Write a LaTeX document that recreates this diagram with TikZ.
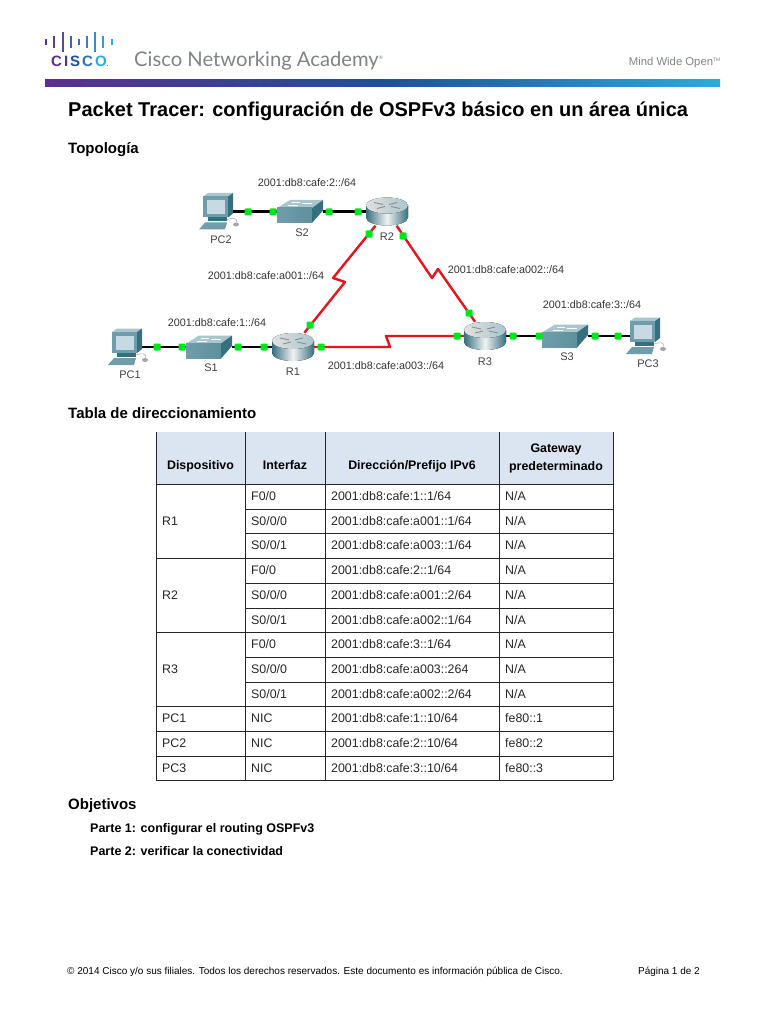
\documentclass[tikz,border=0pt]{standalone}
\usepackage{fontspec}
\setmainfont{Liberation Sans}
\newfontfamily\academyfont{Lato}
\definecolor{ciscogrey}{HTML}{808386}
\definecolor{ciscopurple}{HTML}{5B2F91}
\definecolor{ciscoblue}{HTML}{1F4E9E}
\definecolor{ciscosky}{HTML}{29ABE2}
\definecolor{headfill}{HTML}{DBE5F1}
\definecolor{linkgreen}{HTML}{00E61E}
\definecolor{linkred}{HTML}{E8141C}
\definecolor{tealdark}{HTML}{35707F}
\definecolor{tealmid}{HTML}{6F9DAB}
\definecolor{teallight}{HTML}{A9C6CE}
\definecolor{screenblue}{HTML}{C6DAE3}
\tikzset{
	device/.style={inner sep=0pt, minimum height=#1, minimum width=24pt},
	routernode/.style={inner sep=0pt, minimum height=28pt, minimum width=42pt},
	devlabel/.style={font=\fontsize{11}{13}\selectfont, text=black!75, inner sep=1pt, yshift=-4pt},
	routerlabel/.style={devlabel, yshift=-2pt},
	netlabel/.style={font=\fontsize{10.8}{12}\selectfont, text=black!80, inner sep=0pt},
	linkdot/.style={fill=linkgreen, rounded corners=1pt, inner sep=0pt, minimum size=7pt},
	ethlink/.style={line width=2.4pt, black},
	seriallink/.style={line width=2.4pt, linkred, line join=round},
	heading/.style={font=\bfseries\fontsize{15}{17}\selectfont, anchor=base west, inner sep=0pt},
	parteline/.style={font=\bfseries\fontsize{12.5}{14}\selectfont, anchor=base west, inner sep=0pt},
	tablecell/.style={font=\fontsize{12.4}{14}\selectfont, text=black!85, anchor=west, inner sep=0pt},
	tablehead/.style={font=\bfseries\fontsize{12.4}{18}\selectfont, align=center, inner sep=0pt, anchor=base},
	footline/.style={font=\fontsize{10}{12}\selectfont, anchor=base west, inner sep=0pt},
	gridline/.style={line width=0.9pt, black!85},
	routericon/.pic={
		\fill[left color=tealdark, right color=tealdark, middle color=black!5] (-21,-6) -- (-21,6) arc[start angle=180, end angle=0, x radius=21, y radius=8] -- (21,-6) -- cycle;
		\fill[left color=black!12, right color=teallight] (0,-6) ellipse[x radius=21, y radius=8];
		\draw[black!45, line width=0.9pt] (-13,-9) -- (-4,-7) (13,-3) -- (4,-5) (-10,-3) -- (-2,-5) (10,-9) -- (2,-7);
	},
	switchicon/.pic={
		\fill[teallight] (-23,-3.5) -- (-10,-11.5) -- (23,-11.5) -- (12,-3.5) -- cycle;
		\fill[left color=tealmid, right color=tealmid!70!tealdark] (-23,-3.5) rectangle (12,11.5);
		\fill[tealdark] (12,-3.5) -- (23,-11.5) -- (23,-1) -- (12,11.5) -- cycle;
		\draw[white, line width=0.4pt] (-12,-6) -- (-2,-6) (2,-8) -- (12,-8) (-8,-9) -- (0,-9);
	},
	pcicon/.pic={
		\fill[teallight] (-18,-15) -- (-13,-18.5) -- (12,-18.5) -- (7,-15) -- cycle;
		\fill[tealdark] (7,-15) -- (12,-18.5) -- (12,2) -- (7,6) -- cycle;
		\fill[tealmid] (-18,-15) rectangle (7,6);
		\fill[screenblue] (-14,-11) rectangle (4,3);
		\fill[tealdark] (-13,6) rectangle (6,10);
		\fill[tealmid] (-22,18) -- (-16,11) -- (6,11) -- (4,18) -- cycle;
		\draw[black!35, line width=0.5pt] (6,8) .. controls (12,6) and (16,6) .. (16,11);
		\fill[black!35] (15,13) ellipse[x radius=3, y radius=2];
	}
}
\begin{document}
\begin{tikzpicture}[x=1pt, y=-1pt]
	\useasboundingbox (0,0) rectangle (768,1024);
	
	\foreach \barx/\barh/\barcol in {46/3/0, 54/6/12, 63/10/25, 71/6/38, 79/3/50, 87/6/62, 95/10/75, 103/6/88, 112/3/100} {\fill[ciscosky!\barcol!ciscopurple] (\barx-1.4,42-\barh) rectangle (\barx+1.4,42+\barh);}
	\node[anchor=west, inner sep=0pt, font=\bfseries\fontsize{15}{18}\selectfont] (ciscomark) at (51,61) {\textcolor{ciscopurple}{C}\kern2pt\textcolor{ciscopurple!70!ciscoblue}{I}\kern2pt\textcolor{ciscoblue}{S}\kern2pt\textcolor{ciscoblue!60!ciscosky}{C}\kern2pt\textcolor{ciscosky}{O}\textcolor{ciscosky}{\fontsize{7}{8}\selectfont.}};
	\node[anchor=west, inner sep=0pt, text=ciscogrey, font=\academyfont\fontsize{20.2}{24}\selectfont] (academy) at (134,61) {Cisco Networking Academy\textsuperscript{\tiny\textregistered}};
	\node[anchor=east, inner sep=0pt, text=ciscogrey, font=\fontsize{11.3}{12}\selectfont] (slogan) at (721,63) {Mind Wide Open\textsuperscript{\tiny TM}};
	\fill[left color=ciscopurple, right color=ciscosky, middle color=ciscoblue] (45,80) rectangle (720,87);
	
	\node[heading, font=\bfseries\fontsize{20}{24}\selectfont] (title) at (68,116.5) {Packet Tracer: configuración de OSPFv3 básico en un área única};
	\node[heading] (topologia) at (68,154) {Topología};
	\node[heading] (tabla) at (68,418) {Tabla de direccionamiento};
	\node[heading] (objetivos) at (68,809) {Objetivos};
	\node[parteline] (parte1) at (90,832) {Parte 1: configurar el routing OSPFv3};
	\node[parteline] (parte2) at (90,855) {Parte 2: verificar la conectividad};
	\node[footline] (copyline) at (67,974) {© 2014 Cisco y/o sus filiales. Todos los derechos reservados. Este documento es información pública de Cisco.};
	\node[footline, anchor=base east] (pageno) at (700,974) {Página 1 de 2};
	
	\node[device=37pt, label={[devlabel]below:PC2}] (PC2) at (221,211.5) {}; \node[device=23pt, minimum width=42pt, label={[devlabel]below:S2}] (S2) at (302,211.5) {}; \node[routernode, label={[routerlabel]below:R2}] (R2) at (387,211.5) {};
	\node[device=37pt, label={[devlabel]below:PC1}] (PC1) at (130,347) {}; \node[device=23pt, minimum width=42pt, label={[devlabel]below:S1}] (S1) at (211,347) {}; \node[routernode, label={[routerlabel]below:R1}] (R1) at (293,347) {};
	\node[device=37pt, label={[devlabel]below:PC3}] (PC3) at (648,336) {}; \node[device=23pt, minimum width=42pt, label={[devlabel]below:S3}] (S3) at (567,336) {}; \node[routernode, label={[routerlabel]below:R3}] (R3) at (485,336) {};
	
	\coordinate (zigA1) at (333,278); \coordinate (zigA2) at (345,282); \coordinate (zigB1) at (432,278); \coordinate (zigB2) at (438,269); \coordinate (zigC1) at (390,347); \coordinate (zigC2) at (386,336);
	\draw[ethlink] (PC2) -- (S2); \draw[ethlink] (S2) -- (R2); \draw[ethlink] (PC1) -- (S1); \draw[ethlink] (S1) -- (R1); \draw[ethlink] (R3) -- (S3); \draw[ethlink] (S3) -- (PC3);
	\draw[seriallink] (R2) -- (zigA1) -- (zigA2) -- (R1); \draw[seriallink] (R2) -- (zigB1) -- (zigB2) -- (R3); \draw[seriallink] (R1) -- (zigC1) -- (zigC2) -- (R3);
	
	\foreach \dev in {PC1, PC2, PC3} {\pic at (\dev) {pcicon};}
	\foreach \dev in {S1, S2, S3} {\pic at ([xshift=-2pt]\dev) {switchicon};}
	\foreach \dev in {R1, R2, R3} {\pic at (\dev) {routericon};}
	
	\foreach \dotname/\dotx/\doty in {a/248/212, b/273/212, c/329/212, d/358/212, e/157/347, f/182/347, g/238/347, h/264/347, i/513/336, j/539/336, k/595/336, l/618/336, m/369/234, n/310/325, o/403/236, p/469/313, q/321/347, r/457/336} {\node[linkdot] (dot\dotname) at (\dotx,\doty) {};}
	
	\node[netlabel] (net2) at (307,183) {2001:db8:cafe:2::/64}; \node[netlabel] (neta1) at (266,276) {2001:db8:cafe:a001::/64}; \node[netlabel] (net1) at (217,323) {2001:db8:cafe:1::/64};
	\node[netlabel] (neta3) at (386,366) {2001:db8:cafe:a003::/64}; \node[netlabel] (neta2) at (506,270) {2001:db8:cafe:a002::/64}; \node[netlabel] (net3) at (592,305) {2001:db8:cafe:3::/64};
	
	\fill[headfill] (156,432) rectangle (613,484);
	\foreach \liney in {484, 558, 632, 706, 731, 756, 780} {\draw[gridline] (156,\liney) -- (613,\liney);}
	\foreach \liney in {509, 533, 583, 608, 657, 682} {\draw[gridline] (245,\liney) -- (613,\liney);}
	\foreach \linex in {156, 245, 325, 499, 613} {\draw[gridline] (\linex,432) -- (\linex,780);}
	
	\node[tablehead] (headdev) at (200.5,469) {Dispositivo}; \node[tablehead] (headifc) at (285,469) {Interfaz}; \node[tablehead] (headaddr) at (412,469) {Dirección/Prefijo IPv6}; \node[tablehead] (headgw) at (556,470) {Gateway\\predeterminado};
	\foreach \rowname/\rowy/\devname in {r1/521/R1, r2/595.5/R2, r3/669.5/R3, r4/718.5/PC1, r5/743.5/PC2, r6/768/PC3} {\node[tablecell] (dev\rowname) at (162,\rowy) {\devname};}
	\foreach \rowy/\ifname/\addr/\gw in {496.5/{F0/0}/{2001:db8:cafe:1::1/64}/{N/A}, 521/{S0/0/0}/{2001:db8:cafe:a001::1/64}/{N/A}, 545.5/{S0/0/1}/{2001:db8:cafe:a003::1/64}/{N/A}, 570.5/{F0/0}/{2001:db8:cafe:2::1/64}/{N/A}, 595.5/{S0/0/0}/{2001:db8:cafe:a001::2/64}/{N/A}, 620/{S0/0/1}/{2001:db8:cafe:a002::1/64}/{N/A}, 644.5/{F0/0}/{2001:db8:cafe:3::1/64}/{N/A}, 669.5/{S0/0/0}/{2001:db8:cafe:a003::264}/{N/A}, 694/{S0/0/1}/{2001:db8:cafe:a002::2/64}/{N/A}, 718.5/NIC/{2001:db8:cafe:1::10/64}/{fe80::1}, 743.5/NIC/{2001:db8:cafe:2::10/64}/{fe80::2}, 768/NIC/{2001:db8:cafe:3::10/64}/{fe80::3}} {
		\node[tablecell] (ifc\rowy) at (251,\rowy) {\ifname}; \node[tablecell] (addr\rowy) at (331,\rowy) {\addr}; \node[tablecell] (gw\rowy) at (505,\rowy) {\gw};
	}
\end{tikzpicture}
\end{document}
